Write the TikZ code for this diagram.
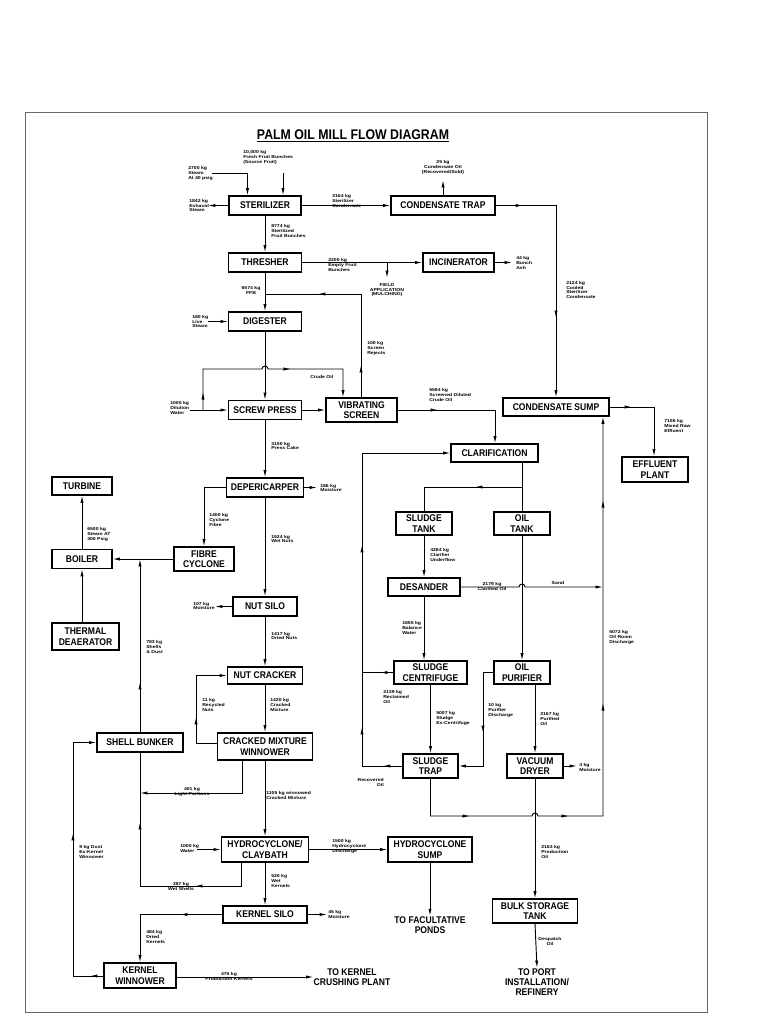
\documentclass[tikz,border=0pt]{standalone}
\usepackage{fontspec}
\setmainfont{Liberation Sans}
\newfontfamily\boxf{Liberation Sans}[FakeStretch=0.88]
\newfontfamily\lblf{Liberation Sans}[FakeStretch=1.2]
\usetikzlibrary{arrows.meta,calc}
\newcommand\mtip[4]{\draw[flow,ea] (#1,#2) -- (#3,#4);}
\begin{document}
\begin{tikzpicture}[x=0.75pt,y=-0.75pt,
 box/.style={draw,line width=0.8pt,inner sep=0pt,align=center,font=\boxf\bfseries\fontsize{7.3}{7.8}\selectfont},
 bx/.style 2 args={box,minimum width=#1*0.75pt,minimum height=#2*0.75pt},
 flow/.style={line width=0.7pt},
 ea/.style={-{Latex[length=5.5pt,width=2.4pt]}},
 lbl/.style={inner sep=0pt,font=\lblf\bfseries\fontsize{3.2}{3.7}\selectfont,align=left},
 lblc/.style={lbl,align=center},
 big/.style={inner sep=0pt,align=center,font=\boxf\bfseries\fontsize{7.3}{7.8}\selectfont},
]
\useasboundingbox (0,0) rectangle (768,1024);
\draw[black!60,line width=0.6pt] (25,112) rectangle (707,1012);

\node[inner sep=0pt,font=\boxf\bfseries\fontsize{10.5}{12}\selectfont] (title) at (353,136) {\underline{PALM OIL MILL FLOW DIAGRAM}};

% ---------- boxes ----------
\node[bx={72}{19}] (ster) at (265,205.5) {STERILIZER};
\node[bx={104}{19}] (ctrap) at (443,205.5) {CONDENSATE TRAP};
\node[bx={73}{19}] (thresh) at (265,262.5) {THRESHER};
\node[bx={71}{19}] (incin) at (458.5,262.5) {INCINERATOR};
\node[bx={73}{19}] (digest) at (265,321.5) {DIGESTER};
\node[bx={73}{19}] (spress) at (265,410) {SCREW PRESS};
\node[bx={71}{24}] (vscreen) at (361.5,410) {VIBRATING\\SCREEN};
\node[bx={106}{18}] (csump) at (556,407) {CONDENSATE SUMP};
\node[bx={87}{18}] (clar) at (494.5,453) {CLARIFICATION};
\node[bx={66}{25}] (eff) at (655,469.5) {EFFLUENT\\PLANT};
\node[bx={60}{18}] (turb) at (82,486) {TURBINE};
\node[bx={77}{19}] (depe) at (265,487.5) {DEPERICARPER};
\node[bx={60}{19}] (boiler) at (82,559) {BOILER};
\node[bx={60}{24}] (fcyc) at (204,559) {FIBRE\\CYCLONE};
\node[bx={56}{23}] (stank) at (424,523.5) {SLUDGE\\TANK};
\node[bx={56}{23}] (otank) at (522,523.5) {OIL\\TANK};
\node[bx={72}{18}] (desand) at (424,587) {DESANDER};
\node[bx={64}{19}] (nsilo) at (265,606.5) {NUT SILO};
\node[bx={67}{27}] (therm) at (85.5,636.5) {THERMAL\\DEAERATOR};
\node[bx={73}{23}] (scent) at (430.5,672.5) {SLUDGE\\CENTRIFUGE};
\node[bx={56}{23}] (opur) at (522,672.5) {OIL\\PURIFIER};
\node[bx={75}{17}] (ncrack) at (265,675.5) {NUT CRACKER};
\node[bx={86}{19}] (sbunk) at (140,742.5) {SHELL BUNKER};
\node[bx={95}{27}] (cmw) at (265,746.5) {CRACKED MIXTURE\\WINNOWER};
\node[bx={55}{24}] (strap) at (430.5,766) {SLUDGE\\TRAP};
\node[bx={56}{24}] (vdry) at (535,766) {VACUUM\\DRYER};
\node[bx={87}{25}] (hydro) at (265,849.5) {HYDROCYCLONE/\\CLAYBATH};
\node[bx={84}{25}] (hsump) at (430,849.5) {HYDROCYCLONE\\SUMP};
\node[bx={85}{24}] (bulk) at (535,911) {BULK STORAGE\\TANK};
\node[bx={84}{17}] (ksilo) at (265,914.5) {KERNEL SILO};
\node[bx={72}{25}] (kwin) at (140,975.5) {KERNEL\\WINNOWER};

\node[big] (ponds) at (430,925) {TO FACULTATIVE\\PONDS};
\node[big] (crush) at (352,977) {TO KERNEL\\CRUSHING PLANT};
\node[big] (port) at (537,982) {TO PORT\\INSTALLATION/\\REFINERY};

% ---------- connectors ----------
\coordinate (stmS) at (212,173);
\draw[flow,ea] (stmS) -| ($(ster.north west)+(19,0)$);
\coordinate (ffbS) at (283,173);
\draw[flow,ea] (ffbS) -- (ffbS |- ster.north);
\coordinate (exE) at (208,205.5);
\draw[flow,ea] (ster.west) -- (exE);
\draw[flow,ea] (ster.east) -- (ctrap.west);
\coordinate (coE) at (443,180);
\draw[flow,ea] (ctrap.north) -- (coE);
\coordinate (cc1) at (556,205.5);
\draw[flow,ea] (ctrap.east) -- (cc1) -- (csump.north);
\mtip{515}{205.5}{523}{205.5}
\mtip{556}{310}{556}{318}
\draw[flow,ea] (ster.south) -- (thresh.north);
\draw[flow,ea] (thresh.east) -- (incin.west);
\coordinate (fa) at (387,278);
\draw[flow,ea] (fa |- thresh.east) -- (fa);
\coordinate (ashE) at (512,262.5);
\draw[flow,ea] (incin.east) -- (ashE);
\draw[flow,ea] (thresh.south) -- (digest.north);
\coordinate (sr1) at (361,294);
\draw[flow] (vscreen.north -| sr1) -- (sr1) -- (sr1 -| thresh.south);
\mtip{361}{373}{361}{365}
\mtip{326}{294}{318}{294}
\coordinate (lsS) at (208,321.5);
\draw[flow,ea] (lsS) -- (digest.west);
\draw[flow,ea] (digest.south) -- (spress.north);
\coordinate (dwS) at (190,410);
\draw[flow,ea] (dwS) -- (spress.west);
\coordinate (co1) at (203,410);
\coordinate (co2) at (203,369);
\coordinate (co3) at (343,369);
\draw[flow,ea] (co1) -- (co2) -- (262,369) arc[start angle=180,end angle=360,radius=3] -- (co3) -- (co3 |- vscreen.north);
\mtip{203}{399}{203}{392}
\mtip{283}{369}{291}{369}
\draw[flow,ea] (spress.east) -- (vscreen.west);
\coordinate (vc1) at (495,410);
\draw[flow,ea] (vscreen.east) -- (vc1) -- (vc1 |- clar.north);
\mtip{430}{410}{438}{410}
\draw[flow,ea] (spress.south) -- (depe.north);
\coordinate (df1) at (204,487.5);
\draw[flow,ea] (depe.west) -- (df1) -- (fcyc.north);
\coordinate (dmE) at (317,487.5);
\draw[flow,ea] (depe.east) -- (dmE);
\draw[flow,ea] (depe.south) -- (nsilo.north);
\draw[flow,ea] (fcyc.west) -- (boiler.east);
\draw[flow,ea] (boiler.north) -- (turb.south);
\draw[flow,ea] (therm.north -| boiler.south) -- (boiler.south);
\coordinate (nmE) at (215,606.5);
\draw[flow,ea] (nsilo.west) -- (nmE);
\draw[flow,ea] (nsilo.south) -- (ncrack.north);
\draw[flow,ea] (ncrack.south) -- (cmw.north);
\coordinate (rn1) at (196,743);
\coordinate (rn2) at (196,675.5);
\draw[flow,ea] (cmw.west |- rn1) -- (rn1) -- (rn2) -- (ncrack.west);
\mtip{196}{725}{196}{717}
\coordinate (lp1) at (242,793);
\coordinate (lp2) at (140,793);
\draw[flow,ea] (lp1 |- cmw.south) -- (lp1) -- (lp2);
\draw[flow,ea] (cmw.south) -- (hydro.north);
\coordinate (sb1) at (140,559);
\draw[flow,ea] (sbunk.north) -- (sb1);
\mtip{140}{690}{140}{682}
\coordinate (ws1) at (241,886);
\coordinate (ws2) at (140,886);
\draw[flow] (ws1 |- hydro.south) -- (ws1) -- (ws2) -- (sbunk.south);
\mtip{203}{886}{195}{886}
\mtip{140}{830}{140}{822}
\coordinate (du1) at (73,976);
\coordinate (du2) at (73,742.5);
\draw[flow,ea] (kwin.west |- du1) -- (du1) -- (du2) -- (sbunk.west);
\mtip{98}{976}{90}{976}
\mtip{73}{841}{73}{833}
\coordinate (kw1) at (140,914.5);
\draw[flow,ea] (ksilo.west) -- (kw1) -- (kwin.north);
\mtip{188}{914.5}{180}{914.5}
\coordinate (kmE) at (327,914.5);
\draw[flow,ea] (ksilo.east) -- (kmE);
\draw[flow,ea] (kwin.east |- crush.west) -- (crush.west);
\coordinate (hwS) at (197,849.5);
\draw[flow,ea] (hwS) -- (hydro.west);
\draw[flow,ea] (hydro.east) -- (hsump.west);
\draw[flow,ea] (hydro.south) -- (ksilo.north);
\draw[flow,ea] (hsump.south) -- (ponds.north);
\coordinate (ce1) at (654,407);
\draw[flow,ea] (csump.east) -- (ce1) -- (ce1 |- eff.north);
\mtip{624}{407}{632}{407}
\draw[flow] (clar.south -| otank.north) -- (otank.north);
\coordinate (ct1) at (522,487);
\coordinate (ct2) at (424,487);
\draw[flow] (ct1) -- (ct2) -- (stank.north);
\mtip{483}{487}{475}{487}
\draw[flow,ea] (stank.south) -- (desand.north);
\coordinate (ds1) at (603,587);
\draw[flow,ea] (desand.east) -- (519,587) arc[start angle=180,end angle=360,radius=3] -- (ds1);
\draw[flow,ea] (otank.south) -- (opur.north);
\draw[flow,ea] (desand.south) -- (desand.south |- scent.north);
\coordinate (rc1) at (362,672.5);
\draw[flow] (scent.west) -- (rc1);
\mtip{388}{672.5}{380}{672.5}
\draw[flow,ea] (scent.south) -- (strap.north);
\coordinate (ps1) at (483,672.5);
\coordinate (ps2) at (483,766);
\draw[flow,ea] (opur.west) -- (ps1) -- (ps2) -- (strap.east);
\mtip{483}{725}{483}{733}
\coordinate (ro1) at (362,766);
\coordinate (ro2) at (362,453);
\draw[flow,ea] (strap.west) -- (ro1) -- (ro2) -- (clar.west);
\mtip{391}{766}{383}{766}
\mtip{362}{735}{362}{727}
\mtip{362}{553}{362}{545}
\draw[flow,ea] (opur.south -| vdry.north) -- (vdry.north);
\coordinate (vmE) at (577,766);
\draw[flow,ea] (vdry.east) -- (vmE);
\coordinate (st1) at (430.5,816);
\coordinate (st2) at (603,816);
\draw[flow,ea] (strap.south) -- (st1) -- (532,816) arc[start angle=180,end angle=360,radius=3] -- (st2) -- (st2 |- csump.south);
\mtip{462}{816}{470}{816}
\mtip{561}{816}{569}{816}
\mtip{603}{711}{603}{703}
\mtip{603}{508}{603}{500}
\draw[flow,ea] (vdry.south) -- (bulk.north);
\draw[flow,ea] (bulk.south) -- (port.north);

% ---------- labels ----------
\node[lbl,anchor=west] (l1) at (243,157) {10,000 kg\\Fresh Fruit Bunches\\(Source Fruit)};
\node[lbl,anchor=west] (l2) at (188,173) {2700 kg\\Steam\\At 40 psig};
\node[lbl,anchor=west] (l3) at (189,205.5) {1842 kg\\Exhaust\\Steam};
\node[lbl,anchor=west] (l4) at (332,201) {2164 kg\\Sterilizer\\Condensate};
\node[lblc] (l5) at (443,167) {25 kg\\Condensate Oil\\(Recovered/Sold)};
\node[lbl,anchor=west] (l6) at (271,231) {8774 kg\\Sterilized\\Fruit Bunches};
\node[lbl,anchor=west] (l7) at (328,265) {2200 kg\\Empty Fruit\\Bunches};
\node[lblc] (l8) at (387,290) {FIELD\\APPLICATION\\(MULCHING)};
\node[lbl,anchor=west] (l9) at (516,263) {44 kg\\Bunch\\Ash};
\node[lbl,anchor=west] (l10) at (566,290) {2124 kg\\Cooled\\Sterilizer\\Condensate};
\node[lblc] (l11) at (251,290) {6574 kg\\FFB};
\node[lbl,anchor=west] (l12) at (192,321.5) {180 kg\\Live\\Steam};
\node[lbl,anchor=west] (l13) at (367,348) {100 kg\\Screen\\Rejects};
\node[lbl,anchor=west] (l14) at (310,377) {Crude Oil};
\node[lbl,anchor=west] (l15) at (170,408) {1000 kg\\Dilution\\Water};
\node[lbl,anchor=west] (l16) at (429,395) {5584 kg\\Screened Diluted\\Crude Oil};
\node[lbl,anchor=west] (l17) at (271,446) {3150 kg\\Press Cake};
\node[lbl,anchor=west] (l18) at (664,426) {7106 kg\\Mixed Raw\\Effluent};
\node[lbl,anchor=west] (l19) at (320,488) {186 kg\\Moisture};
\node[lbl,anchor=west] (l20) at (209,520) {1400 kg\\Cyclone\\Fibre};
\node[lbl,anchor=west] (l21) at (87,534) {6500 kg\\Steam AT\\300 Psig};
\node[lbl,anchor=west] (l22) at (271,539) {1524 kg\\Wet Nuts};
\node[lbl,anchor=west] (l23) at (193,606) {107 kg\\Moisture};
\node[lbl,anchor=west] (l24) at (271,636) {1417 kg\\Dried Nuts};
\node[lbl,anchor=west] (l25) at (146,647) {783 kg\\Shells\\\& Dust};
\node[lbl,anchor=west] (l26) at (430,555) {4284 kg\\Clarifier\\Underflow};
\node[lblc] (l27) at (492,586.5) {2179 kg\\Clarified Oil};
\node[lblc] (l28) at (558,583) {Sand};
\node[lbl,anchor=west] (l29) at (402,628) {1855 kg\\Balance\\Water};
\node[lbl,anchor=west] (l30) at (609,637) {5072 kg\\Oil Room\\Discharge};
\node[lbl,anchor=west] (l31) at (383,697) {2139 kg\\Reclaimed\\Oil};
\node[lbl,anchor=west] (l32) at (436,718) {5007 kg\\Sludge\\Ex-Centrifuge};
\node[lbl,anchor=west] (l33) at (488,710) {10 kg\\Purifier\\Discharge};
\node[lbl,anchor=west] (l34) at (540,719) {2167 kg\\Purified\\Oil};
\node[lbl,anchor=west] (l35) at (579,767) {4 kg\\Moisture};
\node[lbl,anchor=east,align=right] (l36) at (384,782) {Recovered\\Oil};
\node[lbl,anchor=west] (l37) at (202,705) {11 kg\\Recycled\\Nuts};
\node[lbl,anchor=west] (l38) at (270,705) {1420 kg\\Cracked\\Mixture};
\node[lblc] (l39) at (192,792) {401 kg\\Light Portions};
\node[lbl,anchor=west] (l40) at (266,795) {1105 kg winnowed\\Cracked Mixture};
\node[lbl,anchor=west] (l41) at (180,848) {1000 kg\\Water};
\node[lbl,anchor=west] (l42) at (332,846) {1500 kg\\Hydrocyclone\\Discharge};
\node[lblc] (l43) at (181,886) {287 kg\\Wet Shells};
\node[lbl,anchor=west] (l44) at (271,881) {520 kg\\Wet\\Kernels};
\node[lbl,anchor=west] (l45) at (328,914) {45 kg\\Moisture};
\node[lbl,anchor=west] (l46) at (146,937) {484 kg\\Dried\\Kernels};
\node[lbl,anchor=west] (l47) at (79,852) {9 kg Dust\\Ex-Kernel\\Winnower};
\node[lblc] (l48) at (229,976) {475 kg\\Production Kernels};
\node[lbl,anchor=west] (l49) at (541,852) {2163 kg\\Production\\Oil};
\node[lblc] (l50) at (550,941) {Despatch\\Oil};
\end{tikzpicture}
\end{document}
